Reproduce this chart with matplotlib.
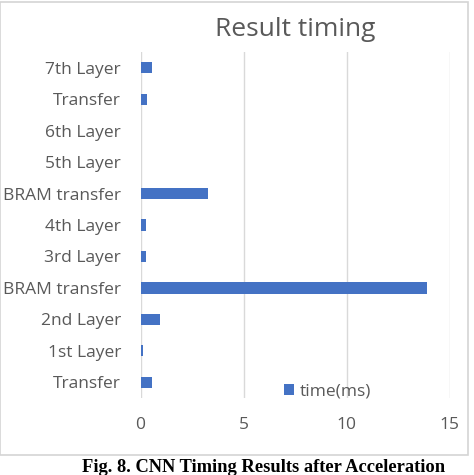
import matplotlib
matplotlib.use("Agg")
import matplotlib.pyplot as plt
from matplotlib.patches import Rectangle

categories = ["Transfer", "1st Layer", "2nd Layer", "BRAM transfer", "3rd Layer",
              "4th Layer", "BRAM transfer", "5th Layer", "6th Layer", "Transfer", "7th Layer"]
times_ms = [0.55, 0.14, 0.95, 13.9, 0.25, 0.25, 3.3, 0.0, 0.0, 0.32, 0.54]
x_ticks = [0, 5, 10, 15]
series_name = "time(ms)"
title = "Result timing"
caption = "Fig. 8. CNN Timing Results after Acceleration"

fig = plt.figure(figsize=(4.74, 4.75), dpi=100)
fig.patch.set_facecolor("white")

# light frame of the chart area
fig.add_artist(Rectangle((0.0, 1 - 455 / 475), 468 / 474, (455 - 2) / 475,
                         transform=fig.transFigure, fill=False,
                         edgecolor="#d4d4d4", linewidth=1.2))

ax = fig.add_axes([140.5 / 474, 1 - 398 / 475, (449.5 - 140.5) / 474, (398 - 52) / 475])
pos = list(range(len(categories)))
ax.barh(pos, times_ms, height=0.36, color="#4472C4", label=series_name, zorder=3)
ax.set_xlim(0, 15)
ax.set_ylim(-0.5, len(categories) - 0.5)
ax.set_xticks(x_ticks)
ax.set_yticks(pos)
ax.set_yticklabels(categories)
for s in ax.spines.values():
    s.set_visible(False)
ax.grid(axis="x", color="#d9d9d9", linewidth=1.0, zorder=0)
ax.tick_params(length=0, labelcolor="#595959", labelsize=12.5)
ax.tick_params(axis="x", pad=14)
ax.tick_params(axis="y", pad=14)
for lbl in ax.get_xticklabels() + ax.get_yticklabels():
    lbl.set_fontfamily("Open Sans")

fig.text(295 / 474, 1 - 30 / 475, title, ha="center", va="center",
         fontsize=19, color="#595959", family="Open Sans")

leg = ax.legend(loc="center", bbox_to_anchor=(0.605, 0.018),
                frameon=False, handlelength=0.6, handleheight=0.6, handletextpad=0.3,
                prop={"family": "Open Sans", "size": 12.5})
for t in leg.get_texts():
    t.set_color("#595959")

fig.text(264 / 474, 1 - 467 / 475, caption, ha="center", va="center",
         fontsize=13.3, fontweight="bold", family="Liberation Serif")

fig.savefig("out.png", dpi=100, facecolor="white")
